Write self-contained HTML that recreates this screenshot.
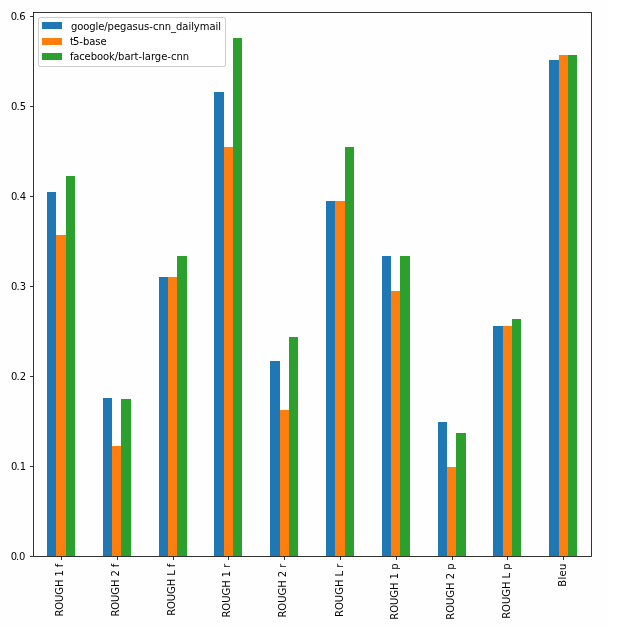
<!DOCTYPE html>
<html lang="en"><head><meta charset="utf-8"><title>ROUGE / Bleu scores by model</title>
<style>html,body{margin:0;padding:0;background:#fff;overflow:hidden}svg{display:block}text{font-family:"DejaVu Sans","Liberation Sans",sans-serif;font-size:10px;fill:#000}</style>
</head><body>
<svg width="630" height="642" viewBox="0 0 630 642">
<rect x="0" y="0" width="630" height="642" fill="#ffffff"/>
<rect x="0" y="0" width="608" height="627" fill="#fefefe"/>
<g shape-rendering="crispEdges">
<rect x="47" y="192" width="9" height="364" fill="#1f77b4"/>
<rect x="56" y="235" width="10" height="321" fill="#ff7f0e"/>
<rect x="66" y="176" width="9" height="380" fill="#2ca02c"/>
<rect x="103" y="398" width="9" height="158" fill="#1f77b4"/>
<rect x="112" y="446" width="9" height="110" fill="#ff7f0e"/>
<rect x="121" y="399" width="10" height="157" fill="#2ca02c"/>
<rect x="159" y="277" width="9" height="279" fill="#1f77b4"/>
<rect x="168" y="277" width="9" height="279" fill="#ff7f0e"/>
<rect x="177" y="256" width="10" height="300" fill="#2ca02c"/>
<rect x="214" y="92" width="10" height="464" fill="#1f77b4"/>
<rect x="224" y="147" width="9" height="409" fill="#ff7f0e"/>
<rect x="233" y="38" width="9" height="518" fill="#2ca02c"/>
<rect x="270" y="361" width="10" height="195" fill="#1f77b4"/>
<rect x="280" y="410" width="9" height="146" fill="#ff7f0e"/>
<rect x="289" y="337" width="9" height="219" fill="#2ca02c"/>
<rect x="326" y="201" width="9" height="355" fill="#1f77b4"/>
<rect x="335" y="201" width="10" height="355" fill="#ff7f0e"/>
<rect x="345" y="147" width="9" height="409" fill="#2ca02c"/>
<rect x="382" y="256" width="9" height="300" fill="#1f77b4"/>
<rect x="391" y="291" width="9" height="265" fill="#ff7f0e"/>
<rect x="400" y="256" width="10" height="300" fill="#2ca02c"/>
<rect x="438" y="422" width="9" height="134" fill="#1f77b4"/>
<rect x="447" y="467" width="9" height="89" fill="#ff7f0e"/>
<rect x="456" y="433" width="10" height="123" fill="#2ca02c"/>
<rect x="493" y="326" width="10" height="230" fill="#1f77b4"/>
<rect x="503" y="326" width="9" height="230" fill="#ff7f0e"/>
<rect x="512" y="319" width="9" height="237" fill="#2ca02c"/>
<rect x="549" y="60" width="10" height="496" fill="#1f77b4"/>
<rect x="559" y="55" width="9" height="501" fill="#ff7f0e"/>
<rect x="568" y="55" width="9" height="501" fill="#2ca02c"/>
</g>
<g stroke="#000" stroke-width="0.8" fill="none">
<line x1="61.5" y1="556.4" x2="61.5" y2="560"/>
<line x1="117.5" y1="556.4" x2="117.5" y2="560"/>
<line x1="173.5" y1="556.4" x2="173.5" y2="560"/>
<line x1="228.5" y1="556.4" x2="228.5" y2="560"/>
<line x1="284.5" y1="556.4" x2="284.5" y2="560"/>
<line x1="340.5" y1="556.4" x2="340.5" y2="560"/>
<line x1="396.5" y1="556.4" x2="396.5" y2="560"/>
<line x1="452.5" y1="556.4" x2="452.5" y2="560"/>
<line x1="507.5" y1="556.4" x2="507.5" y2="560"/>
<line x1="563.5" y1="556.4" x2="563.5" y2="560"/>
<line x1="30" y1="556.5" x2="33.2" y2="556.5"/>
<line x1="30" y1="466.5" x2="33.2" y2="466.5"/>
<line x1="30" y1="376.5" x2="33.2" y2="376.5"/>
<line x1="30" y1="286.5" x2="33.2" y2="286.5"/>
<line x1="30" y1="196.5" x2="33.2" y2="196.5"/>
<line x1="30" y1="106.5" x2="33.2" y2="106.5"/>
<line x1="30" y1="16.5" x2="33.2" y2="16.5"/>
<rect x="33.5" y="12.5" width="558.0" height="544.0" stroke-linejoin="miter"/>
</g>
<text id="y0" x="25.4" y="559.8" text-anchor="end">0<tspan dx="-1.15">.</tspan><tspan dx="-0.25">0</tspan></text>
<text id="y1" x="26.1" y="469.8" text-anchor="end">0<tspan dx="-0.7">.1</tspan></text>
<text id="y2" x="26.1" y="379.8" text-anchor="end">0<tspan dx="-0.7">.2</tspan></text>
<text id="y3" x="26.1" y="289.8" text-anchor="end">0<tspan dx="-0.7">.3</tspan></text>
<text id="y4" x="26.1" y="199.8" text-anchor="end">0<tspan dx="-0.7">.4</tspan></text>
<text id="y5" x="26.1" y="109.8" text-anchor="end">0<tspan dx="-0.7">.5</tspan></text>
<text id="y6" x="25.6" y="19.8" text-anchor="end">0<tspan dx="-1.02">.</tspan><tspan dx="-0.18">6</tspan></text>
<text id="x0" transform="translate(63.0,563.77) rotate(-90)" text-anchor="end" textLength="52.78" lengthAdjust="spacing">ROUGH 1 f</text>
<text id="x1" transform="translate(119.1,563.77) rotate(-90)" text-anchor="end" textLength="52.78" lengthAdjust="spacing">ROUGH 2 f</text>
<text id="x2" transform="translate(175.4,563.77) rotate(-90)" text-anchor="end" textLength="52.06" lengthAdjust="spacing">ROUGH L f</text>
<text id="x3" transform="translate(230.3,563.52) rotate(-90)" text-anchor="end" textLength="54.10" lengthAdjust="spacing">ROUGH 1 r</text>
<text id="x4" transform="translate(286.4,563.52) rotate(-90)" text-anchor="end" textLength="54.10" lengthAdjust="spacing">ROUGH 2 r</text>
<text id="x5" transform="translate(342.5,563.65) rotate(-90)" text-anchor="end" textLength="53.25" lengthAdjust="spacing">ROUGH L r</text>
<text id="x6" transform="translate(398.3,563.42) rotate(-90)" text-anchor="end" textLength="56.31" lengthAdjust="spacing">ROUGH 1 p</text>
<text id="x7" transform="translate(454.1,563.42) rotate(-90)" text-anchor="end" textLength="56.31" lengthAdjust="spacing">ROUGH 2 p</text>
<text id="x8" transform="translate(509.5,563.42) rotate(-90)" text-anchor="end" textLength="55.46" lengthAdjust="spacing">ROUGH L p</text>
<text id="x9" transform="translate(566.1,563.75) rotate(-90)" text-anchor="end" textLength="22.99" lengthAdjust="spacing">Bleu</text>
<rect x="38.5" y="17.5" width="187" height="49" rx="2" ry="2" fill="#fff" fill-opacity="0.8" stroke="#ccc" stroke-width="1"/>
<rect x="42" y="22" width="20" height="7" fill="#1f77b4" shape-rendering="crispEdges"/>
<rect x="42" y="38" width="20" height="7" fill="#ff7f0e" shape-rendering="crispEdges"/>
<rect x="42" y="53" width="20" height="7" fill="#2ca02c" shape-rendering="crispEdges"/>
<text id="l0" x="71.1" y="29.6"><tspan letter-spacing="-0.13">google</tspan>/pegasus-cnn_<tspan letter-spacing="-0.06">dailymail</tspan></text>
<text id="l1" x="70" y="44.7">t<tspan dx="-1">5-base</tspan></text>
<text id="l2" x="70" y="59.6">f<tspan dx="-0.4" letter-spacing="-0.07">acebook</tspan><tspan dx="-0.1" letter-spacing="-0.02">/bart-large-cnn</tspan></text>
</svg>
</body></html>
